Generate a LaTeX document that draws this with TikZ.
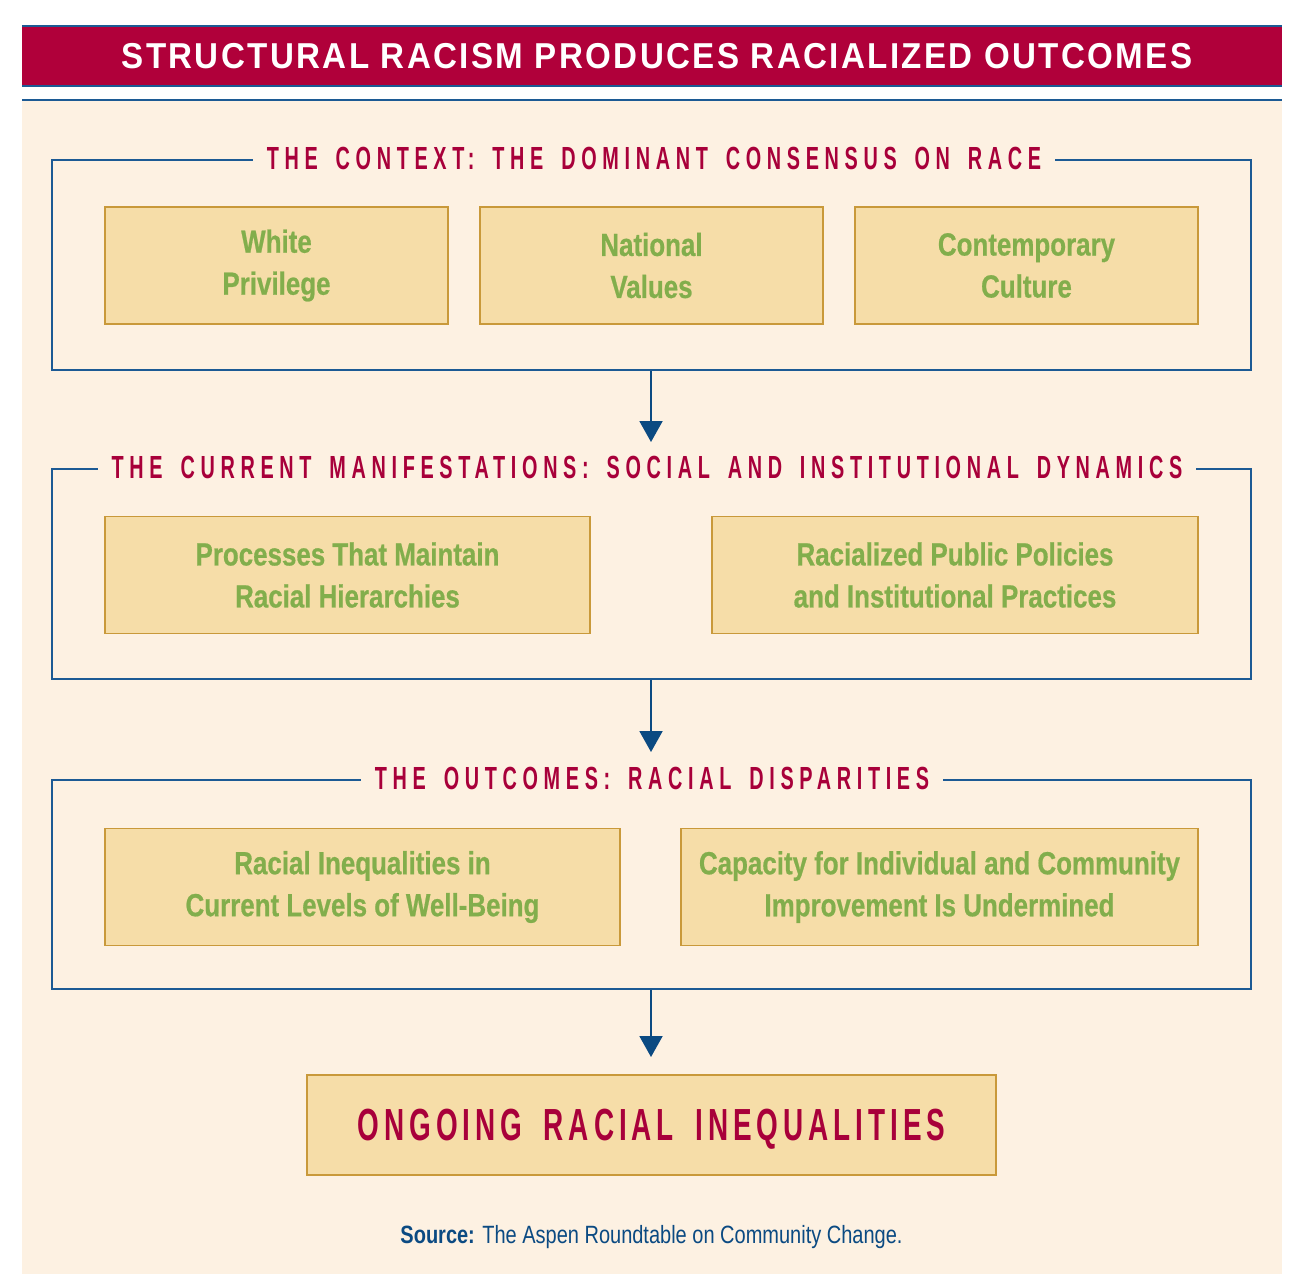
\documentclass[tikz,border=0pt]{standalone}
\usepackage{fontspec}
\setmainfont{Liberation Sans}
\usetikzlibrary{arrows.meta}
\newfontfamily\greenfont[FakeStretch=0.81,FakeBold=0.6]{Liberation Sans}
\newfontfamily\secfont[FakeStretch=0.62,LetterSpace=17.7,WordSpace=1.6]{Liberation Sans}
\newfontfamily\ongfont[FakeStretch=0.62,LetterSpace=11,WordSpace=1.7]{Liberation Sans}
\newfontfamily\headfont[FakeStretch=0.92,LetterSpace=6.6]{Liberation Sans}
\newfontfamily\srcfont[FakeStretch=0.8]{Liberation Sans}
\definecolor{hdred}{HTML}{B0003A}
\definecolor{secred}{HTML}{A8003A}
\definecolor{lineblue}{HTML}{1C5A94}
\definecolor{arrblue}{HTML}{0B4A82}
\definecolor{cream}{HTML}{FDF1E2}
\definecolor{boxfill}{HTML}{F6DDA8}
\definecolor{boxline}{HTML}{C9993A}
\definecolor{txtgreen}{HTML}{82AE4C}
\tikzset{
  frame/.style={draw=lineblue, line width=1.6pt, minimum width=1199pt, inner sep=0pt},
  sectitle/.style={fill=cream, text=secred, inner xsep=14pt, inner ysep=2pt,
    font=\secfont\bfseries\fontsize{32}{36}\selectfont},
  gbox/.style={draw=boxline, fill=boxfill, line width=1.2pt, minimum height=117pt,
    inner sep=0pt, align=center, text=txtgreen,
    font=\greenfont\bfseries\fontsize{32}{42}\selectfont},
  arr/.style={draw=arrblue, line width=2pt, -{Triangle[width=23pt,length=21pt]}},
}
\begin{document}
\begin{tikzpicture}[x=1pt,y=-1pt]
\useasboundingbox (0,0) rectangle (1304,1274);
\fill[white] (0,0) rectangle (1304,1274);
\fill[cream] (22,101) rectangle (1282,1274);
% header
\node[fill=hdred, minimum width=1260pt, minimum height=60pt, inner sep=0pt] (header) at (652,56) {};
\node[text=white, inner sep=0pt, font=\headfont\bfseries\fontsize{36}{40}\selectfont] (htitle) at (657,56)
  {STRUCTURAL RACISM PRODUCES RACIALIZED OUTCOMES};
\draw[lineblue, line width=2pt] (header.north west) -- (header.north east);
\draw[lineblue, line width=2pt] (header.south west) -- (header.south east);
\coordinate (hl1) at (22,100);
\coordinate (hl2) at (1282,100);
\draw[lineblue, line width=2pt] (hl1) -- (hl2);
% frames
\node[frame, minimum height=210pt] (f1) at (651.5,265) {};
\node[frame, minimum height=210pt] (f2) at (651.5,574) {};
\node[frame, minimum height=209pt] (f3) at (651.5,884.5) {};
\node[sectitle] (t1) at (654,158) {THE CONTEXT: THE DOMINANT CONSENSUS ON RACE};
\node[sectitle] (t2) at (647,467) {THE CURRENT MANIFESTATIONS: SOCIAL AND INSTITUTIONAL DYNAMICS};
\node[sectitle] (t3) at (652,778) {THE OUTCOMES: RACIAL DISPARITIES};
% row 1
\node[gbox, minimum width=343pt] (b11) at (276.5,265.5) {White\\Privilege};
\node[gbox, minimum width=343pt] (b12) at (651.5,265.5) {National\\Values};
\node[gbox, minimum width=343pt] (b13) at (1026.5,265.5) {Contemporary\\Culture};
% row 2
\node[gbox, minimum width=485pt] (b21) at (347.5,575) {Processes That Maintain\\Racial Hierarchies};
\node[gbox, minimum width=486pt] (b22) at (955,575) {Racialized Public Policies\\and Institutional Practices};
% row 3
\node[gbox, minimum width=515pt] (b31) at (362.5,887) {Racial Inequalities in\\Current Levels of Well-Being};
\node[gbox, minimum width=517pt] (b32) at (939.5,887) {Capacity for Individual and Community\\Improvement Is Undermined};
% final
\node[gbox, minimum width=689pt, minimum height=100pt, text=secred, text depth=0pt,
  font=\ongfont\bfseries\fontsize{45}{50}\selectfont] (fin) at (651.5,1125) {ONGOING RACIAL INEQUALITIES};
% arrows
\coordinate (a1) at (651,442);
\coordinate (a2) at (651,752);
\coordinate (a3) at (651,1057);
\draw[arr] (f1.south -| a1) -- (a1);
\draw[arr] (f2.south -| a2) -- (a2);
\draw[arr] (f3.south -| a3) -- (a3);
% source
\node[anchor=base, text=arrblue, inner sep=0pt, font=\srcfont\fontsize{25}{28}\selectfont] (src) at (651.5,1243)
  {\textbf{Source:} The Aspen Roundtable on Community Change.};
\end{tikzpicture}
\end{document}
